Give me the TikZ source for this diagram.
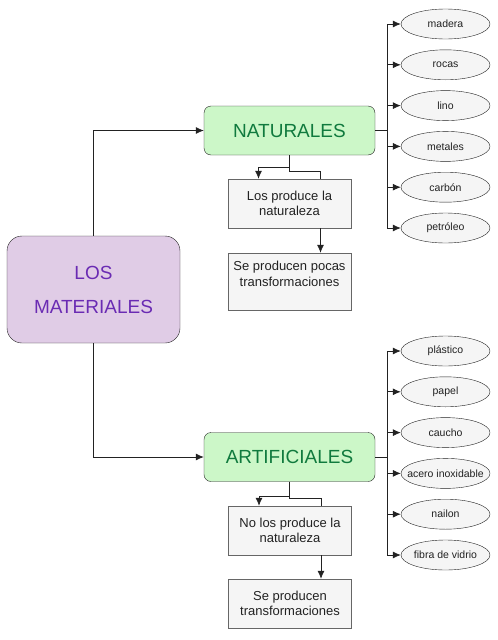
\documentclass[tikz,border=0pt]{standalone}
\usepackage{fontspec}
\setmainfont{Liberation Sans}
\usepackage{tikz}
\usetikzlibrary{arrows.meta}
\usetikzlibrary{shapes.geometric,positioning,calc}

\definecolor{lilaFondo}{HTML}{E0CCE6}
\definecolor{lilaTexto}{HTML}{6A2BB3}
\definecolor{verdeFondo}{HTML}{CCF7C8}
\definecolor{verdeTexto}{HTML}{107A3E}
\definecolor{grisFondo}{HTML}{F5F5F5}
\definecolor{grisBorde}{HTML}{666666}
\definecolor{linea}{HTML}{222222}

\tikzset{
  raiz/.style={draw=linea, fill=lilaFondo, rounded corners=15pt, text=lilaTexto,
    minimum width=173pt, minimum height=107pt, align=center,
    font=\fontsize{19}{34}\selectfont},
  rama/.style={draw=linea, fill=verdeFondo, rounded corners=7pt, text=verdeTexto,
    minimum width=171pt, minimum height=49pt, font=\fontsize{19}{23}\selectfont},
  cuadro/.style={draw=grisBorde, fill=grisFondo, text=linea, minimum width=123pt,
    minimum height=49pt, align=center, inner sep=2pt,
    font=\fontsize{13}{15.6}\selectfont},
  hoja/.style={ellipse, draw=linea, fill=grisFondo, text=linea, minimum width=89pt,
    minimum height=30pt, inner xsep=-7pt, inner ysep=0pt,
    font=\fontsize{10.5}{12}\selectfont},
  linkline/.style={draw=linea, line width=0.8pt},
  arrow/.style={linkline, -{Latex[length=8pt,width=7pt]}}
}

\begin{document}
\begin{tikzpicture}[x=1pt, y=-1pt]
  \useasboundingbox (0,0) rectangle (498,640);

  % nodos principales
  \node[raiz] (materiales) at (93.5,289.5) {LOS\\MATERIALES};
  \node[rama] (naturales) at (289.5,130.5) {NATURALES};
  \node[rama] (artificiales) at (289.5,457) {ARTIFICIALES};

  % cuadros de explicacion
  \node[cuadro] (natprod) at (289.5,203.5) {Los produce la\\naturaleza};
  \node[cuadro, minimum height=57pt] (natpocas) at (289.5,281.5) {Se producen pocas\\transformaciones\\\mbox{}};
  \node[cuadro] (artprod) at (290,530.5) {No los produce la\\naturaleza};
  \node[cuadro] (arttrans) at (290,603.5) {Se producen\\transformaciones};

  % ejemplos
  \foreach \t [count=\i] in {madera,rocas,lino,metales,carbón,petróleo}
    \node[hoja] (nat\i) at (445.5,{24+40.8*(\i-1)}) {\t};
  \foreach \t [count=\i] in {plástico,papel,caucho,acero inoxidable,nailon,fibra de vidrio}
    \node[hoja] (art\i) at (445.5,{351+40.8*(\i-1)}) {\t};

  % conexiones
  \draw[arrow] (materiales.north) |- (naturales.west);
  \draw[arrow] (materiales.south) |- (artificiales.west);

  \draw[arrow] (naturales.south) -- ++(0,12) -| ([xshift=-31pt]natprod.north);
  \draw[linkline] (naturales.south) -- ++(0,16) -| ([xshift=31pt]natprod.north);
  \draw[arrow] ([xshift=31pt]natprod.south) -- ([xshift=31pt]natpocas.north);

  \draw[arrow] (artificiales.south) -- ++(0,15) -| ([xshift=-31pt]artprod.north);
  \draw[linkline] (artificiales.south) -- ++(0,17) -| ([xshift=31pt]artprod.north);
  \draw[arrow] ([xshift=31pt]artprod.south) -- ([xshift=31pt]arttrans.north);

  \foreach \i in {1,...,6} {
    \draw[arrow] (naturales.east) -- ++(12,0) |- (nat\i.west);
    \draw[arrow] (artificiales.east) -- ++(12,0) |- (art\i.west);
  }
\end{tikzpicture}
\end{document}
